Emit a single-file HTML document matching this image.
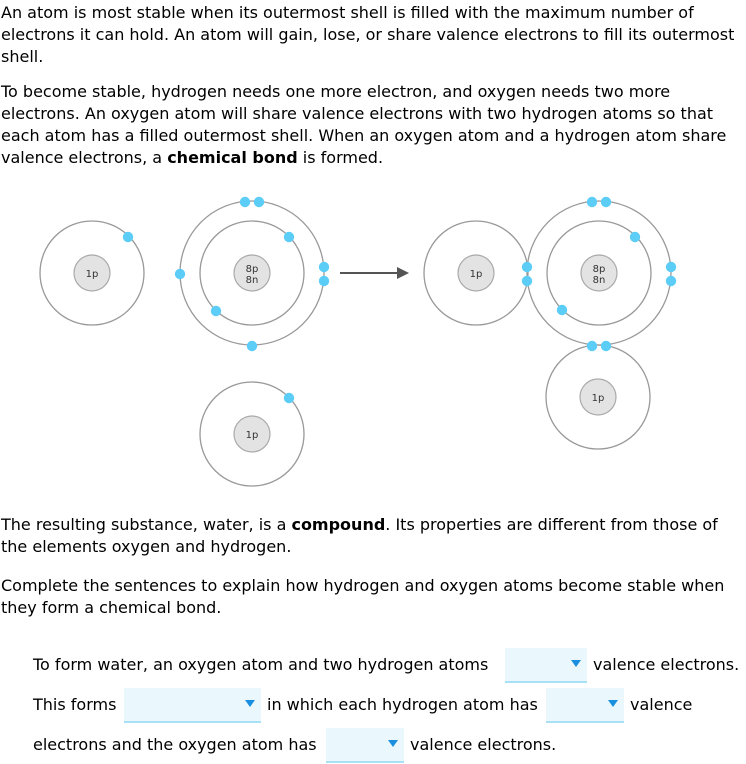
<!DOCTYPE html><html><head><style>
body{margin:0;width:746px;height:764px;background:#fff;font-family:"DejaVu Sans",Verdana,sans-serif;font-size:16px;color:#000;position:relative;overflow:hidden}
.l{position:absolute;left:1px;white-space:nowrap;line-height:22px}
.d{position:absolute;background:#eaf7fc;border-bottom:2px solid #a8e0f5;height:33px}
.d::after{content:"";position:absolute;right:6px;top:12px;border-left:5px solid transparent;border-right:5px solid transparent;border-top:7px solid #1a8fe0}
</style></head><body>
<div class="l" style="top:2px">An atom is most stable when its outermost shell is filled with the maximum number of<br>electrons it can hold. An atom will gain, lose, or share valence electrons to fill its outermost<br>shell.</div>
<div class="l" style="top:81px">To become stable, hydrogen needs one more electron, and oxygen needs two more<br>electrons. An oxygen atom will share valence electrons with two hydrogen atoms so that<br>each atom has a filled outermost shell. When an oxygen atom and a hydrogen atom share<br>valence electrons, a <b>chemical bond</b> is formed.</div>
<svg style="position:absolute;left:0;top:0" width="746" height="500">
<g fill="none" stroke="#999" stroke-width="1.3">
<circle cx="92" cy="273" r="52"/><circle cx="252" cy="273" r="52"/><circle cx="252" cy="273" r="72"/>
<circle cx="252" cy="434" r="52"/>
<circle cx="476" cy="273" r="52"/><circle cx="599" cy="273" r="52"/><circle cx="599" cy="273" r="72"/>
<circle cx="598" cy="397" r="52"/>
</g>
<g fill="#e3e3e3" stroke="#aaa" stroke-width="1.2">
<circle cx="92" cy="273" r="18"/><circle cx="252" cy="273" r="18"/><circle cx="252" cy="434" r="18"/>
<circle cx="476" cy="273" r="18"/><circle cx="599" cy="273" r="18"/><circle cx="598" cy="397" r="18"/>
</g>
<g font-family="DejaVu Sans,sans-serif" font-size="10" fill="#333" text-anchor="middle">
<text x="92" y="277">1p</text><text x="252" y="438">1p</text><text x="476" y="277">1p</text><text x="598" y="401">1p</text>
<text x="252" y="272">8p</text><text x="252" y="283">8n</text>
<text x="599" y="272">8p</text><text x="599" y="283">8n</text>
</g>
<g fill="#5bcdf7">
<circle cx="128" cy="237" r="5.2"/>
<circle cx="245" cy="202" r="5.2"/><circle cx="259" cy="202" r="5.2"/><circle cx="180" cy="274" r="5.2"/>
<circle cx="324" cy="267" r="5.2"/><circle cx="324" cy="281" r="5.2"/><circle cx="252" cy="346" r="5.2"/>
<circle cx="289" cy="237" r="5.2"/><circle cx="216" cy="311" r="5.2"/>
<circle cx="289" cy="398" r="5.2"/>
<circle cx="527" cy="267" r="5.2"/><circle cx="527" cy="281" r="5.2"/>
<circle cx="592" cy="202" r="5.2"/><circle cx="606" cy="202" r="5.2"/><circle cx="671" cy="267" r="5.2"/><circle cx="671" cy="281" r="5.2"/>
<circle cx="635" cy="237" r="5.2"/><circle cx="562" cy="310" r="5.2"/>
<circle cx="592" cy="346" r="5.2"/><circle cx="606" cy="346" r="5.2"/>
</g>
<line x1="340" y1="273" x2="398" y2="273" stroke="#555" stroke-width="2"/>
<polygon points="397,267 409,273 397,279" fill="#555"/>
</svg>
<div class="l" style="top:514px">The resulting substance, water, is a <b>compound</b>. Its properties are different from those of<br>the elements oxygen and hydrogen.</div>
<div class="l" style="top:575px">Complete the sentences to explain how hydrogen and oxygen atoms become stable when<br>they form a chemical bond.</div>
<div class="l" style="top:654px;left:33px">To form water, an oxygen atom and two hydrogen atoms</div>
<div class="d" style="left:505px;top:648px;width:82px"></div>
<div class="l" style="top:654px;left:593px">valence electrons.</div>
<div class="l" style="top:694px;left:33px">This forms</div>
<div class="d" style="left:124px;top:688px;width:137px"></div>
<div class="l" style="top:694px;left:267px">in which each hydrogen atom has</div>
<div class="d" style="left:546px;top:688px;width:78px"></div>
<div class="l" style="top:694px;left:630px">valence</div>
<div class="l" style="top:734px;left:33px">electrons and the oxygen atom has</div>
<div class="d" style="left:326px;top:728px;width:78px"></div>
<div class="l" style="top:734px;left:410px">valence electrons.</div>
</body></html>
